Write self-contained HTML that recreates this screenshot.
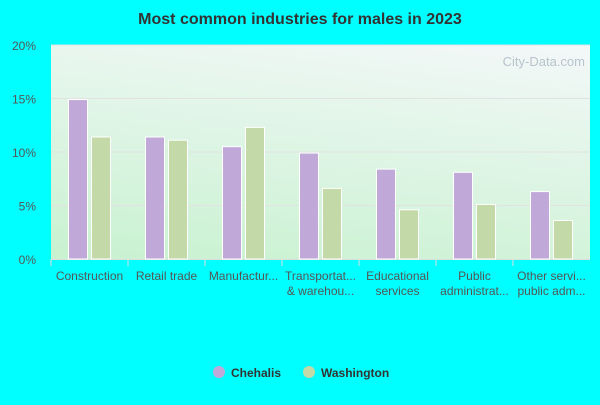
<!DOCTYPE html>
<html><head><meta charset="utf-8"><style>
body{margin:0;background:#00ffff;width:600px;height:400px;overflow:hidden;font-family:"Liberation Sans",sans-serif}
</style></head><body>
<svg width="600" height="400">
<defs><linearGradient id="bg" x1="0" y1="1" x2="0.4" y2="-0.3"><stop offset="0" stop-color="#c8f2d0"/><stop offset="1" stop-color="#f7f8fc"/></linearGradient></defs>
<text x="300" y="24" text-anchor="middle" font-size="16" font-weight="bold" fill="#333">Most common industries for males in 2023</text>
<rect x="51" y="45" width="539" height="214" fill="url(#bg)"/>
<text x="585" y="66" text-anchor="end" font-size="13" fill="#b8c4cc">City-Data.com</text>
<g id="grid"></g><g id="bars"></g><g id="xl"></g>
<g>
<circle cx="219" cy="372" r="6" fill="#c0a9d8"/>
<text x="231" y="377" font-size="12" font-weight="bold" fill="#333">Chehalis</text>
<circle cx="309" cy="372" r="6" fill="#c4d9a8"/>
<text x="321" y="377" font-size="12" font-weight="bold" fill="#333">Washington</text>
</g>
</svg>
<script>
const categories=[["Construction"],["Retail trade"],["Manufactur..."],["Transportat...","& warehou..."],["Educational","services"],["Public","administrat..."],["Other servi...","public adm..."]];
const chehalis=[14.9,11.4,10.5,9.9,8.4,8.1,6.3];
const washington=[11.4,11.1,12.3,6.6,4.6,5.1,3.6];
const ticks=[0,5,10,15,20];
const NS="http://www.w3.org/2000/svg";
const L=51,R=590,T=45,B=259;
const y=v=>B-(v/20)*(B-T);
const cw=(R-L)/categories.length;
function mk(t,a,p){const e=document.createElementNS(NS,t);for(const k in a)e.setAttribute(k,a[k]);document.getElementById(p).appendChild(e);return e;}
ticks.forEach(t=>{
 if(t>0){const g=mk('line',{x1:L,x2:R,y1:y(t),y2:y(t),stroke:'#e2e2e2','stroke-width':1},'grid');
 
 }
 const tx=mk('text',{x:L-15,y:y(t)+5,'text-anchor':'end','font-size':12,fill:'#555'},'grid');tx.textContent=t+'%';
 
 
});
mk('line',{x1:L,x2:R,y1:B+0.5,y2:B+0.5,stroke:'#ddd'},'grid');
categories.forEach((c,i)=>{
 const cx=L+cw*(i+0.5);
 const b1=mk('rect',{x:cx-21,y:y(chehalis[i]),width:19,height:B-y(chehalis[i]),fill:'#c0a9d8',stroke:'#fff','stroke-width':1},'bars');
 
 
 const b2=mk('rect',{x:cx+2,y:y(washington[i]),width:19,height:B-y(washington[i]),fill:'#c4d9a8',stroke:'#fff','stroke-width':1},'bars');
 
 
 const tk=mk('line',{x1:L+cw*i,x2:L+cw*i,y1:B,y2:B+7,stroke:'#ddd'},'xl');
 c.forEach((s,j)=>{const t=mk('text',{x:cx,y:280+j*15,'text-anchor':'middle','font-size':12,fill:'#555'},'xl');t.textContent=s;
 
 });
});
</script>
</body></html>
